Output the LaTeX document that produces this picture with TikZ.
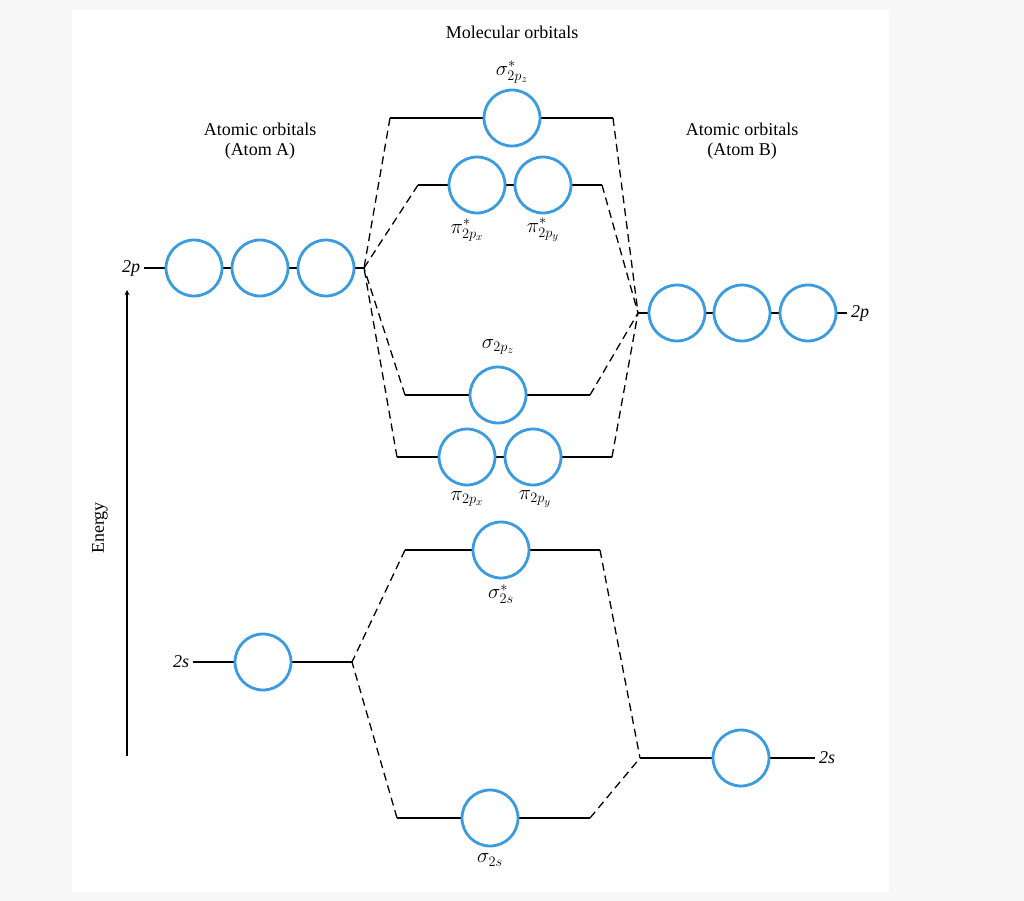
\documentclass[tikz,border=0pt]{standalone}
\usepackage{fontspec}
\setmainfont{Liberation Serif}
\begin{document}
\begin{tikzpicture}[x=1pt,y=-1pt,
  orb/.style={circle,draw=orbblue,line width=2.8pt,minimum size=56pt,inner sep=0pt,fill=white},
  lvl/.style={line width=1.3pt},
  corr/.style={line width=1.3pt,dash pattern=on 8pt off 5pt},
  lab/.style={font=\fontsize{18}{20}\selectfont,align=center},
  ml/.style={font=\fontsize{21}{23}\selectfont}]
\definecolor{orbblue}{HTML}{3A9BE0}
\fill[gray!6] (0,0) rectangle (1024,901);
\fill[white] (72,10) rectangle (889,892);
\useasboundingbox (0,0) rectangle (1024,901);
% junctions
\coordinate (JA) at (364,268);
\coordinate (JB) at (638,313);
\coordinate (JAs) at (352,662);
\coordinate (JBs) at (640,758);
% Atom A 2p
\node[lab,font=\fontsize{18}{20}\selectfont\itshape] (l2pA) at (131,268) {2p};
\draw[lvl] (l2pA.east) -- (JA);
\node[orb] (a1) at (194,268) {};
\node[orb] (a2) at (260,268) {};
\node[orb] (a3) at (326,268) {};
% Atom B 2p
\node[lab,font=\fontsize{18}{20}\selectfont\itshape] (l2pB) at (860,313) {2p};
\draw[lvl] (JB) -- (l2pB.west);
\node[orb] (b1) at (677,313) {};
\node[orb] (b2) at (742,313) {};
\node[orb] (b3) at (808,313) {};
% sigma*2pz
\coordinate (s1L) at (390,118); \coordinate (s1R) at (613,118);
\draw[lvl] (s1L) -- (s1R);
\node[orb] (s1) at (512,118) {};
\draw[corr] (s1L) -- (JA); \draw[corr] (s1R) -- (JB);
% pi*
\coordinate (p1L) at (418,185); \coordinate (p1R) at (602,185);
\draw[lvl] (p1L) -- (p1R);
\node[orb] (p1a) at (477,185) {};
\node[orb] (p1b) at (543,185) {};
\draw[corr] (p1L) -- (JA); \draw[corr] (p1R) -- (JB);
% sigma2pz
\coordinate (s2L) at (405,395); \coordinate (s2R) at (590,395);
\draw[lvl] (s2L) -- (s2R);
\node[orb] (s2) at (498,395) {};
\draw[corr] (s2L) -- (JA); \draw[corr] (s2R) -- (JB);
% pi
\coordinate (p2L) at (397,457); \coordinate (p2R) at (612,457);
\draw[lvl] (p2L) -- (p2R);
\node[orb] (p2a) at (467,457) {};
\node[orb] (p2b) at (533,457) {};
\draw[corr] (p2L) -- (JA); \draw[corr] (p2R) -- (JB);
% sigma*2s
\coordinate (s3L) at (405,550); \coordinate (s3R) at (600,550);
\draw[lvl] (s3L) -- (s3R);
\node[orb] (s3) at (501,550) {};
\draw[corr] (s3L) -- (JAs); \draw[corr] (s3R) -- (JBs);
% 2s A
\node[lab,font=\fontsize{18}{20}\selectfont\itshape] (l2sA) at (181,662) {2s};
\draw[lvl] (l2sA.east) -- (JAs);
\node[orb] (as) at (263,662) {};
% sigma2s
\coordinate (s4L) at (397,818); \coordinate (s4R) at (590,818);
\draw[lvl] (s4L) -- (s4R);
\node[orb] (s4) at (490,818) {};
\draw[corr] (s4L) -- (JAs); \draw[corr] (s4R) -- (JBs);
% 2s B
\node[lab,font=\fontsize{18}{20}\selectfont\itshape] (l2sB) at (827,758) {2s};
\draw[lvl] (JBs) -- (l2sB.west);
\node[orb] (bs) at (741,758) {};
% energy
\coordinate (e0) at (127,756); \coordinate (e1) at (127,290);
\draw[line width=1.3pt,-stealth] (e0) -- (e1);
\node[lab,rotate=90] (en) at (100,528) {Energy};
% titles
\node[lab] (mo) at (512,32) {Molecular orbitals};
\node[lab] (aoA) at (260,141) {Atomic orbitals\\(Atom A)};
\node[lab] (aoB) at (742,141) {Atomic orbitals\\(Atom B)};
% MO labels
\node[ml] at (512,72) {$\sigma^*_{2p_z}$};
\node[ml] at (467,230) {$\pi^*_{2p_x}$};
\node[ml] at (543,230) {$\pi^*_{2p_y}$};
\node[ml] at (498,347) {$\sigma_{2p_z}$};
\node[ml] at (467,499) {$\pi_{2p_x}$};
\node[ml] at (535,499) {$\pi_{2p_y}$};
\node[ml] at (501,594) {$\sigma^*_{2s}$};
\node[ml] at (490,860) {$\sigma_{2s}$};
\end{tikzpicture}
\end{document}
